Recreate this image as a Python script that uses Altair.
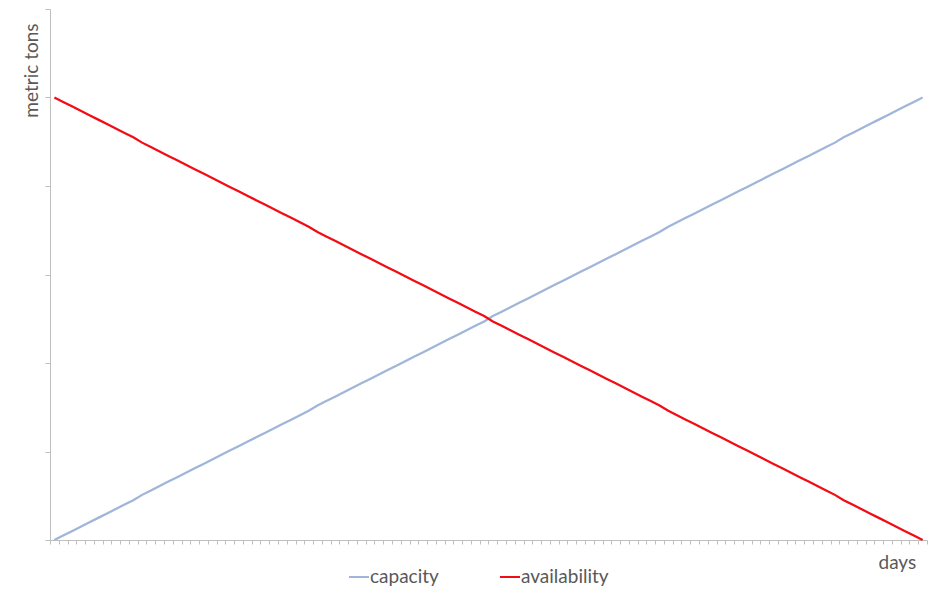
import altair as alt
import pandas as pd

days = list(range(1, 101))

capacity = [
    0.00, 0.05, 0.10, 0.15, 0.20, 0.25, 0.30, 0.35, 0.40, 0.45,
    0.51, 0.56, 0.61, 0.66, 0.71, 0.76, 0.81, 0.86, 0.91, 0.96,
    1.01, 1.06, 1.11, 1.16, 1.21, 1.26, 1.31, 1.36, 1.41, 1.46,
    1.52, 1.57, 1.62, 1.67, 1.72, 1.77, 1.82, 1.87, 1.92, 1.97,
    2.02, 2.07, 2.12, 2.17, 2.22, 2.27, 2.32, 2.37, 2.42, 2.47,
    2.53, 2.58, 2.63, 2.68, 2.73, 2.78, 2.83, 2.88, 2.93, 2.98,
    3.03, 3.08, 3.13, 3.18, 3.23, 3.28, 3.33, 3.38, 3.43, 3.48,
    3.54, 3.59, 3.64, 3.69, 3.74, 3.79, 3.84, 3.89, 3.94, 3.99,
    4.04, 4.09, 4.14, 4.19, 4.24, 4.29, 4.34, 4.39, 4.44, 4.49,
    4.55, 4.60, 4.65, 4.70, 4.75, 4.80, 4.85, 4.90, 4.95, 5.00,
]

availability = [
    5.00, 4.95, 4.90, 4.85, 4.80, 4.75, 4.70, 4.65, 4.60, 4.55,
    4.49, 4.44, 4.39, 4.34, 4.29, 4.24, 4.19, 4.14, 4.09, 4.04,
    3.99, 3.94, 3.89, 3.84, 3.79, 3.74, 3.69, 3.64, 3.59, 3.54,
    3.48, 3.43, 3.38, 3.33, 3.28, 3.23, 3.18, 3.13, 3.08, 3.03,
    2.98, 2.93, 2.88, 2.83, 2.78, 2.73, 2.68, 2.63, 2.58, 2.53,
    2.47, 2.42, 2.37, 2.32, 2.27, 2.22, 2.17, 2.12, 2.07, 2.02,
    1.97, 1.92, 1.87, 1.82, 1.77, 1.72, 1.67, 1.62, 1.57, 1.52,
    1.46, 1.41, 1.36, 1.31, 1.26, 1.21, 1.16, 1.11, 1.06, 1.01,
    0.96, 0.91, 0.86, 0.81, 0.76, 0.71, 0.66, 0.61, 0.56, 0.51,
    0.45, 0.40, 0.35, 0.30, 0.25, 0.20, 0.15, 0.10, 0.05, 0.00,
]

series_names = ["capacity", "availability"]
series_colors = ["#9fb5d9", "#f20c14"]

df = pd.DataFrame({"day": days, "capacity": capacity, "availability": availability})
long = df.melt(id_vars="day", value_vars=series_names, var_name="series", value_name="value")

FONT = "Lato"
FS = 19
TEXT = "#595959"
AXIS = "#bfbfbf"

chart = (
    alt.Chart(long)
    .mark_line(strokeWidth=2.25)
    .encode(
        x=alt.X(
            "day:O",
            scale=alt.Scale(type="band", paddingInner=0, paddingOuter=0),
            axis=alt.Axis(
                labels=False,
                tickBand="extent",
                tickSize=4,
                tickColor=AXIS,
                domainColor=AXIS,
                grid=False,
                title="days",
                titleX=828,
                titleY=28,
                titleAlign="left",
                titleBaseline="alphabetic",
                titleFont=FONT,
                titleFontSize=FS,
                titleFontWeight="normal",
                titleColor=TEXT,
            ),
        ),
        y=alt.Y(
            "value:Q",
            scale=alt.Scale(domain=[0, 6], nice=False),
            axis=alt.Axis(
                labels=False,
                tickCount=6,
                tickSize=5,
                tickColor=AXIS,
                domainColor=AXIS,
                grid=False,
                title="metric tons",
                titleX=-13,
                titleY=14,
                titleAngle=270,
                titleAlign="right",
                titleBaseline="alphabetic",
                titleFont=FONT,
                titleFontSize=FS,
                titleFontWeight="normal",
                titleColor=TEXT,
            ),
        ),
        color=alt.Color(
            "series:N",
            scale=alt.Scale(domain=series_names, range=series_colors),
            sort=series_names,
            legend=alt.Legend(
                title=None,
                orient="none",
                legendX=298,
                legendY=557,
                direction="horizontal",
                symbolType="stroke",
                symbolSize=400,
                symbolStrokeWidth=2,
                labelOffset=0,
                columnPadding=57,
                padding=0,
                labelFont=FONT,
                labelFontSize=FS,
                labelColor=TEXT,
            ),
        ),
    )
    .properties(
        width=877,
        height=531,
        padding={"left": 42, "top": 1, "right": 5, "bottom": 55},
        autosize="none",
    )
    .configure_view(stroke=None)
)

chart.save("out.html", embed_options={"renderer": "svg", "actions": False})
